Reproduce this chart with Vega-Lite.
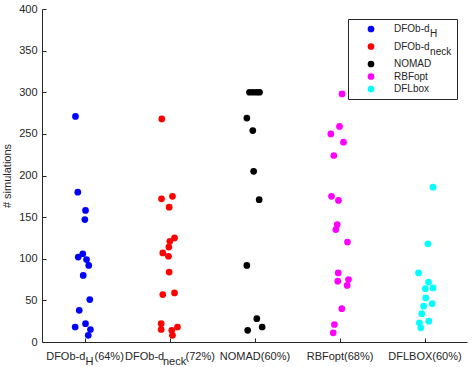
{
  "$schema": "https://vega.github.io/schema/vega-lite/v6.json",
  "width": 425,
  "height": 333,
  "autosize": {"type": "none"},
  "padding": {"left": 42, "top": 9, "right": 7, "bottom": 25},
  "background": "white",
  "data": {"values": [
    {"m":"DFOb-dH","x":0.894,"y":271},{"m":"DFOb-dH","x":0.921,"y":180},{"m":"DFOb-dH","x":1.012,"y":158},{"m":"DFOb-dH","x":1.004,"y":147},{"m":"DFOb-dH","x":0.98,"y":106},{"m":"DFOb-dH","x":0.926,"y":102},{"m":"DFOb-dH","x":1.024,"y":99},{"m":"DFOb-dH","x":1.05,"y":92},{"m":"DFOb-dH","x":0.985,"y":80},{"m":"DFOb-dH","x":1.062,"y":51},{"m":"DFOb-dH","x":0.938,"y":38},{"m":"DFOb-dH","x":1.012,"y":22},{"m":"DFOb-dH","x":0.89,"y":18},{"m":"DFOb-dH","x":1.07,"y":15},{"m":"DFOb-dH","x":1.044,"y":8},
    {"m":"DFOb-dneck","x":1.909,"y":268},{"m":"DFOb-dneck","x":1.906,"y":172},{"m":"DFOb-dneck","x":2.035,"y":175},{"m":"DFOb-dneck","x":1.996,"y":162},{"m":"DFOb-dneck","x":2.059,"y":125},{"m":"DFOb-dneck","x":2.004,"y":121},{"m":"DFOb-dneck","x":1.992,"y":114},{"m":"DFOb-dneck","x":1.921,"y":107},{"m":"DFOb-dneck","x":1.988,"y":103},{"m":"DFOb-dneck","x":1.996,"y":84},{"m":"DFOb-dneck","x":1.921,"y":57},{"m":"DFOb-dneck","x":2.059,"y":59},{"m":"DFOb-dneck","x":1.902,"y":22},{"m":"DFOb-dneck","x":1.902,"y":15},{"m":"DFOb-dneck","x":2.027,"y":14},{"m":"DFOb-dneck","x":2.094,"y":18},{"m":"DFOb-dneck","x":2.035,"y":8},
    {"m":"NOMAD","x":2.941,"y":300},{"m":"NOMAD","x":2.982,"y":300},{"m":"NOMAD","x":3.024,"y":300},{"m":"NOMAD","x":3.059,"y":300},{"m":"NOMAD","x":2.91,"y":269},{"m":"NOMAD","x":2.98,"y":254},{"m":"NOMAD","x":2.99,"y":205},{"m":"NOMAD","x":3.055,"y":171},{"m":"NOMAD","x":2.91,"y":92},{"m":"NOMAD","x":3.027,"y":28},{"m":"NOMAD","x":3.09,"y":18},{"m":"NOMAD","x":2.92,"y":14},
    {"m":"RBFopt","x":4.03,"y":298},{"m":"RBFopt","x":4.0,"y":259},{"m":"RBFopt","x":3.898,"y":250},{"m":"RBFopt","x":4.047,"y":240},{"m":"RBFopt","x":3.933,"y":224},{"m":"RBFopt","x":3.906,"y":175},{"m":"RBFopt","x":3.988,"y":170},{"m":"RBFopt","x":3.973,"y":141},{"m":"RBFopt","x":3.957,"y":135},{"m":"RBFopt","x":4.094,"y":120},{"m":"RBFopt","x":3.985,"y":83},{"m":"RBFopt","x":3.98,"y":73},{"m":"RBFopt","x":4.106,"y":75},{"m":"RBFopt","x":4.09,"y":68},{"m":"RBFopt","x":4.027,"y":40},{"m":"RBFopt","x":3.94,"y":21},{"m":"RBFopt","x":3.926,"y":11},
    {"m":"DFLbox","x":5.1,"y":186},{"m":"DFLbox","x":5.04,"y":118},{"m":"DFLbox","x":4.93,"y":83},{"m":"DFLbox","x":5.047,"y":72},{"m":"DFLbox","x":5.01,"y":64},{"m":"DFLbox","x":5.1,"y":65},{"m":"DFLbox","x":5.015,"y":53},{"m":"DFLbox","x":4.99,"y":43},{"m":"DFLbox","x":5.09,"y":46},{"m":"DFLbox","x":4.968,"y":34},{"m":"DFLbox","x":4.94,"y":23},{"m":"DFLbox","x":5.05,"y":25},{"m":"DFLbox","x":4.956,"y":17}
  ]},
  "mark": {"type": "point", "filled": true, "opacity": 1, "size": 45, "shape": "circle"},
  "encoding": {
    "x": {
      "field": "x", "type": "quantitative",
      "scale": {"domain": [0.5, 5.5], "nice": false, "zero": false},
      "axis": {
        "title": null, "grid": false, "values": [1, 2, 3, 4, 5],
        "labelExpr": "datum.value == 1 ? ['DFOb-d\u00a0\u00a0\u00a0(64%)', '\u200b\u00a0\u00a0\u00a0H'] : datum.value == 2 ? ['DFOb-d\u00a0\u00a0\u00a0\u00a0\u00a0\u00a0\u00a0(72%)', '\u200b\u00a0\u00a0\u00a0neck'] : datum.value == 3 ? 'NOMAD(60%)' : datum.value == 4 ? 'RBFopt(68%)' : 'DFLBOX(60%)'",
        "labelLineHeight": 5,
        "labelOverlap": false, "labelFlush": false, "labelBound": false,
        "tickSize": -4, "labelPadding": 12
      }
    },
    "y": {
      "field": "y", "type": "quantitative",
      "scale": {"domain": [0, 400], "nice": false},
      "axis": {
        "title": "# simulations", "grid": false, "values": [0,50,100,150,200,250,300,350,400],
        "tickSize": -4, "labelPadding": 9, "titlePadding": 6
      }
    },
    "color": {
      "field": "m", "type": "nominal",
      "scale": {"domain": ["DFOb-dH","DFOb-dneck","NOMAD","RBFopt","DFLbox"], "range": ["#0000ff","#ff0000","#000000","#ff00ff","#00ffff"]},
      "legend": {
        "title": null, "orient": "top-right", "offset": 10,
        "strokeColor": "#262626", "fillColor": "white", "padding": 5,
        "labelFontSize": 10, "symbolSize": 45, "symbolType": "circle",
        "symbolStrokeWidth": 0, "labelOffset": 18, "rowPadding": 2.5,
        "symbolOffset": 13,
        "labelExpr": "datum.value == 'DFOb-dH' ? ['DFOb-d', '\u200b\u00a0\u00a0\u00a0\u00a0\u00a0\u00a0\u00a0\u00a0\u00a0\u00a0\u00a0\u00a0\u00a0H'] : datum.value == 'DFOb-dneck' ? ['DFOb-d', '\u200b\u00a0\u00a0\u00a0\u00a0\u00a0\u00a0\u00a0\u00a0\u00a0\u00a0\u00a0\u00a0\u00a0neck'] : datum.value"
      }
    }
  },
  "config": {
    "font": "Liberation Sans",
    "view": {"stroke": null},
    "style": {"guide-label": {"lineHeight": 5}},
    "axis": {
      "domainColor": "#262626", "tickColor": "#262626", "labelColor": "#262626",
      "titleColor": "#262626", "labelFontSize": 11, "titleFontSize": 11,
      "titleFontWeight": "normal", "domainWidth": 1, "tickWidth": 1
    },
    "legend": {"labelColor": "#262626"}
  }
}
